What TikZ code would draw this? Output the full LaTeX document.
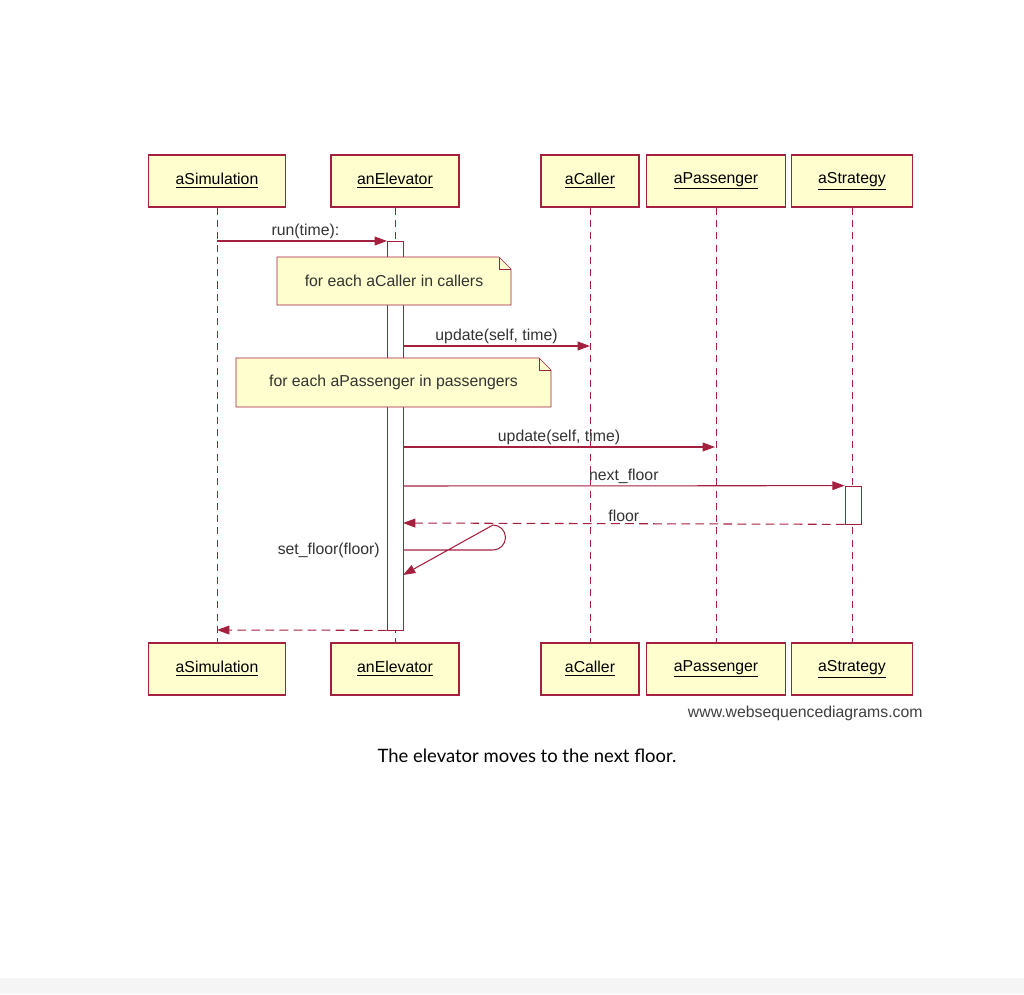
\documentclass[tikz,border=0pt]{standalone}
\usepackage{fontspec}
\setmainfont{Liberation Sans}
\newfontfamily\capfont{Lato}
\usetikzlibrary{arrows.meta,positioning,calc,shapes.misc}
\definecolor{wsdred}{HTML}{A3203F}
\definecolor{wsdfill}{HTML}{FEFECE}
\begin{document}
\begin{tikzpicture}[x=0.02cm, y=-0.02cm, semithick, font=\fontsize{9}{11}\selectfont, >={Triangle[length=7pt,width=5pt]}]
\tikzstyle{actor}=[draw=wsdred,fill=wsdfill,thick,minimum height=1.04cm,inner sep=0pt]
\tikzstyle{life}=[wsdred,dashed,thin,dash pattern=on 4pt off 3pt]
\tikzstyle{msg}=[wsdred,->]
\tikzstyle{ret}=[wsdred,->,dashed,dash pattern=on 5pt off 3pt]
\tikzstyle{bar}=[draw=wsdred,fill=white,thin]
\tikzstyle{lbl}=[text=black!80,inner sep=1pt]
\useasboundingbox (0,0) rectangle (1024,994);
\fill[black!4] (0,978) rectangle (1024,994);
% participants
\foreach \n/\t/\x/\w in {sim/aSimulation/217/137, elev/anElevator/395/128, call/aCaller/590/98, pass/aPassenger/716/139, strat/aStrategy/852/121}{
  \node[actor,minimum width=\w*0.02cm] (\n T) at (\x,181) {\underline{\t}};
  \node[actor,minimum width=\w*0.02cm] (\n B) at (\x,669) {\underline{\t}};
  \draw[life] (\n T.south) -- (\n B.north);
}
% activations
\node[bar,minimum width=0.32cm,minimum height=7.78cm,inner sep=0pt] (elevA) at (395,435.5) {};
\node[bar,minimum width=0.32cm,minimum height=0.76cm,inner sep=0pt] (stratA) at (853,505) {};
% notes
\foreach \n/\t/\xa/\ya/\xb/\yb in {noteA/for each aCaller in callers/277/257/511/305, noteB/for each aPassenger in passengers/236/358/551/407}{
  \draw[wsdred,thin,fill=wsdfill] (\xa,\ya) -- (\xb-12,\ya) -- (\xb,\ya+12) -- (\xb,\yb) -- (\xa,\yb) -- cycle;
  \draw[wsdred,thin] (\xb-12,\ya) -- (\xb-12,\ya+12) -- (\xb,\ya+12);
  \node[lbl] (\n) at ($(\xa,\ya)!0.5!(\xb,\yb)$) {\t};
}
% messages
\coordinate (s1) at (217,241); \coordinate (e1) at (387,241);
\draw[msg] (s1) -- node[lbl,above,pos=0.52] {run(time):} (e1);
\coordinate (e2) at (403,346); \coordinate (c2) at (590,346);
\draw[msg] (e2) -- node[lbl,above] {update(self, time)} (c2);
\coordinate (e3) at (403,447); \coordinate (p3) at (715,447);
\draw[msg] (e3) -- node[lbl,above] {update(self, time)} (p3);
\coordinate (e4) at (403,486);
\draw[msg] (e4) -- node[lbl,above,pos=0.50] {next\_floor} (stratA.north west);
\coordinate (e5) at (403,523);
\draw[ret] (stratA.south west) -- node[lbl,above,pos=0.50] {floor} (e5);
\coordinate (e6) at (403,550); \coordinate (e7) at (403,575);
\draw[msg] (e6) -- (493,550) arc (90:-90:12.5) -- (e7);
\node[lbl,anchor=east] (selfL) at (382,550) {set\_floor(floor)};
\coordinate (s8) at (217,630);
\draw[ret] (elevA.south west) -- (s8);
% footer
\node[anchor=east,text=black!75] (wsd) at (929,713) {www.websequencediagrams.com};
\node[font=\capfont\fontsize{10.5}{12}\selectfont] (cap) at (527,756) {The elevator moves to the next floor.};
\end{tikzpicture}
\end{document}
